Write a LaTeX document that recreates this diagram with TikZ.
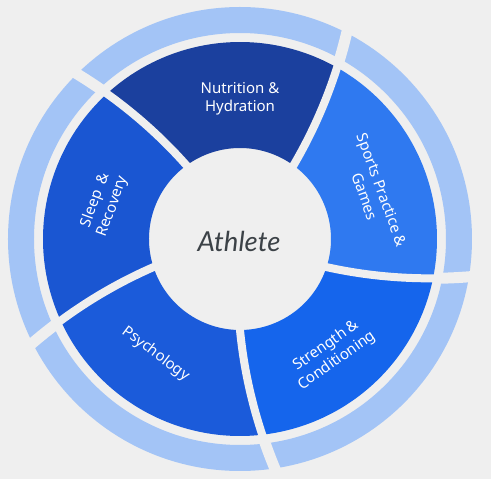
\documentclass[tikz,border=0pt]{standalone}
\usepackage{fontspec}
\newfontfamily\labfont{Noto Sans}
\newfontfamily\athfont{Lato}
\definecolor{bgc}{HTML}{EFEFEF}
\definecolor{ringc}{HTML}{A3C4F6}
\definecolor{nutc}{HTML}{1B409E}
\definecolor{sleepc}{HTML}{1A56D2}
\definecolor{psyc}{HTML}{1B5BDA}
\definecolor{strc}{HTML}{1565EC}
\definecolor{sportc}{HTML}{2F79F0}
\definecolor{athc}{HTML}{3C4247}
\tikzset{
  lab/.style={text=white, align=center, inner sep=0pt, font=\labfont\fontsize{15}{18.5}\selectfont},
  gapline/.style={draw=bgc, line width=8pt},
  ringgap/.style={draw=bgc, line width=11pt},
}
\newcommand{\segpath}[1]{%
  plot[domain=91:197,samples=20] ({#1+8.5*(\x-91)/139}:\x)
  arc[start angle={#1+6.482}, end angle={#1+78.482}, radius=197pt]
  -- plot[domain=197:91,samples=20] ({#1+72+8.5*(\x-91)/139}:\x)
  arc[start angle={#1+72}, end angle={#1}, radius=91pt] -- cycle}
\begin{document}
\begin{tikzpicture}[x=1pt,y=1pt]
\fill[bgc] (-240,-240) rectangle (251,239);
\useasboundingbox (-240,-240) rectangle (251,239);
% outer ring
\fill[ringc, even odd rule] (0,0) circle[radius=232pt] (0,0) circle[radius=206pt];
% segments
\fill[nutc] \segpath{54};
\fill[sleepc] \segpath{126};
\fill[psyc] \segpath{198};
\fill[strc] \segpath{270};
\fill[sportc] \segpath{-18};
% gaps
\foreach \b in {54,126,198,270,342}{
  \draw[gapline] plot[domain=88:202,samples=25] ({\b+8.5*(\x-91)/139}:\x);
  \draw[ringgap] plot[domain=200:238,samples=10] ({\b+8.5*(\x-91)/139}:\x);
}
% labels
\node[inner sep=0pt, anchor=base, text=athc, font=\athfont\itshape\fontsize{27.5}{32}\selectfont] (ath) at (-1,-13) {Athlete};
\node[lab] (nut) at (0,140) {Nutrition \&\\Hydration};
\node[lab, rotate=-70] (spo) at (133.7,45.7) {Sports Practice \&\\Games};
\node[lab, rotate=35] (str) at (91.7,-114.3) {Strength \&\\Conditioning};
\node[lab, rotate=-37] (psy) at (-84,-115) {Psychology};
\node[lab, rotate=70] (slp) at (-135.7,35.7) {Sleep\ \ \&\\Recovery};
\end{tikzpicture}
\end{document}
